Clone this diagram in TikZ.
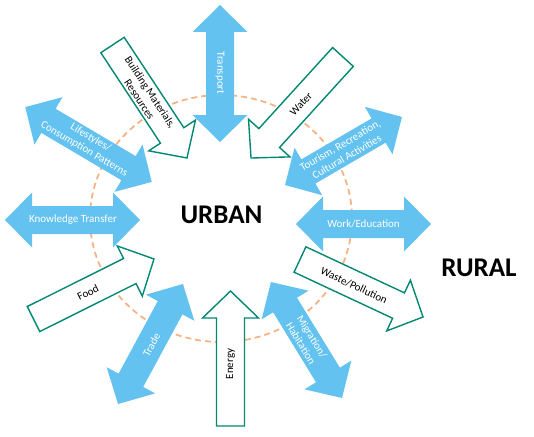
\documentclass[tikz,border=0pt]{standalone}
\usepackage{fontspec}
\setmainfont{Carlito}
\definecolor{arrblue}{RGB}{99,194,240}
\definecolor{arrgreen}{RGB}{0,136,114}
\definecolor{ringorange}{RGB}{244,180,135}
\tikzset{
  bluearr/.style={fill=arrblue},
  outarr/.style={draw=arrgreen, line width=1.4pt, fill=white, line join=miter},
  ring/.style={draw=ringorange, line width=1.8pt, dash pattern=on 6pt off 4pt},
  wtxt/.style={text=white, font=\fontsize{11}{13}\selectfont, align=center, inner sep=0pt},
  btxt/.style={text=black, font=\fontsize{11}{13}\selectfont, align=center, inner sep=0pt},
  bigtxt/.style={text=black, font=\fontsize{27}{30}\selectfont\bfseries, inner sep=0pt}
}
% double arrow: cx, cy, angle, length
\newcommand\dblarrow[4]{%
  \fill[bluearr, shift={(#1,#2)}, rotate=#3]
    ({-#4/2},0) -- ({-#4/2+27},-27.5) -- ({-#4/2+27},-14) -- ({#4/2-27},-14)
    -- ({#4/2-27},-27.5) -- ({#4/2},0) -- ({#4/2-27},27.5) -- ({#4/2-27},14)
    -- ({-#4/2+27},14) -- ({-#4/2+27},27.5) -- cycle;}
% single outlined arrow: cx, cy, angle (towards tip), length
\newcommand\sglarrow[4]{%
  \draw[outarr, shift={(#1,#2)}, rotate=#3]
    ({-#4/2},-14) -- ({#4/2-27},-14) -- ({#4/2-27},-28) -- ({#4/2},0)
    -- ({#4/2-27},28) -- ({#4/2-27},14) -- ({-#4/2},14) -- cycle;}
\begin{document}
\begin{tikzpicture}[x=1pt, y=-1pt]
\useasboundingbox (0,0) rectangle (534,436);
% dashed ring
\draw[ring] (221,218.5) ellipse [x radius=131, y radius=123.5];
% outlined single arrows
\sglarrow{149.75}{101.5}{-56.6}{135.3}
\sglarrow{297}{107.5}{-132.3}{136.6}
\sglarrow{361.5}{288.25}{-25.05}{135.8}
\sglarrow{230.5}{358.5}{90}{135}
\sglarrow{93.75}{289}{26.5}{134.6}
% blue double arrows
\dblarrow{220}{73.5}{90}{137}
\dblarrow{343.5}{151}{30.2}{135.3}
\dblarrow{363.5}{224}{0}{135}
\dblarrow{306.5}{340}{-58.5}{136}
\dblarrow{150.5}{344}{61.6}{136.5}
\dblarrow{72.5}{220}{0}{135}
\dblarrow{88.5}{144.5}{-30.6}{147}
% labels
\node[wtxt, rotate=-90] (transport) at (220,73) {Transport};
\node[btxt, rotate=-56.6] (building) at (145,96) {Building Materials,\\Resources};
\node[btxt, rotate=47.7] (water) at (301,104) {Water};
\node[wtxt, rotate=30.2] (tourism) at (343.5,151) {Tourism, Recreation,\\Cultural Activities};
\node[wtxt] (work) at (363.5,224) {Work/Education};
\node[btxt, rotate=-25.05] (waste) at (354,285.5) {Waste/Pollution};
\node[wtxt, rotate=-58.5] (migration) at (306.5,340) {Migration/\\Habitation};
\node[btxt, rotate=90] (energy) at (230.5,364) {Energy};
\node[wtxt, rotate=61.6] (trade) at (151.5,345) {Trade};
\node[btxt, rotate=26.5] (food) at (88,292.5) {Food};
\node[wtxt] (knowledge) at (73,220) {Knowledge Transfer};
\node[wtxt, rotate=-30.6] (lifestyles) at (87.5,143.5) {Lifestyles/\\Consumption Patterns};
\node[bigtxt] (urban) at (221.5,214.5) {URBAN};
\node[bigtxt] (rural) at (479,267.5) {RURAL};
\end{tikzpicture}
\end{document}
